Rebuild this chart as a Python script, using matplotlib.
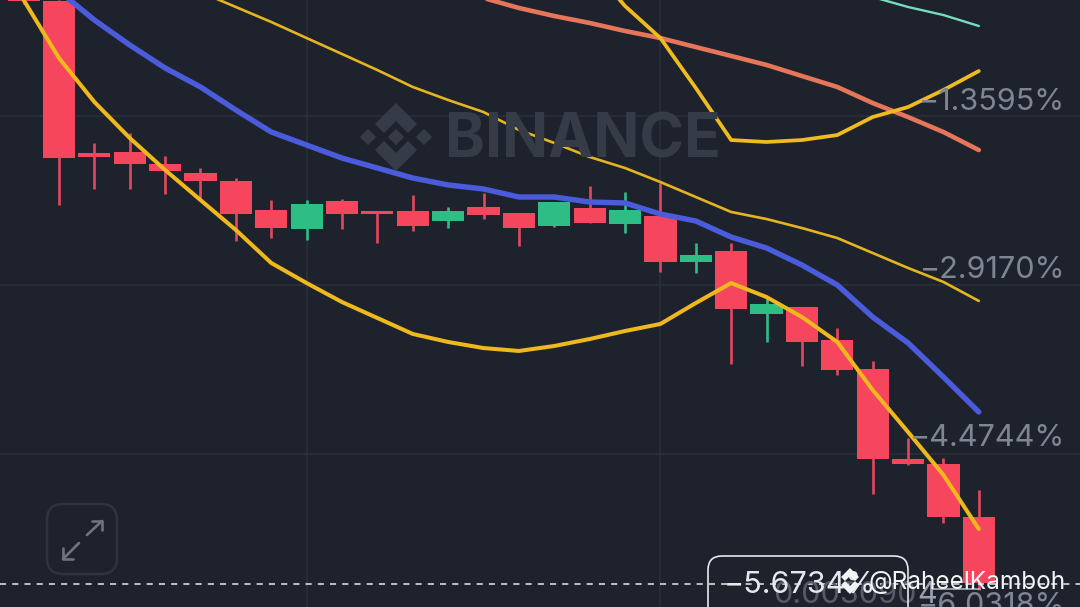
import numpy as np
import matplotlib
matplotlib.use('Agg')
import matplotlib.pyplot as plt
from matplotlib.patches import FancyBboxPatch, Polygon

# candles, all in percent
opens = [-0.263, -0.300, -1.700, -1.691, -1.802, -1.885, -1.959, -2.226, -2.401, -2.143,
         -2.235, -2.235, -2.327, -2.198, -2.253, -2.373, -2.207, -2.355, -2.281, -2.705,
         -2.604, -3.184, -3.120, -3.424, -3.691, -4.521, -4.567, -5.055]
closes = [-0.304, -1.747, -1.737, -1.802, -1.866, -1.959, -2.263, -2.392, -2.170, -2.263,
          -2.263, -2.373, -2.235, -2.272, -2.392, -2.152, -2.346, -2.226, -2.705, -2.640,
          -3.138, -3.092, -3.442, -3.700, -4.521, -4.567, -5.055, -5.663]
highs = [-0.250, -0.290, -1.608, -1.516, -1.728, -1.839, -1.931, -2.134, -2.134, -2.124,
         -2.235, -2.088, -2.198, -2.069, -2.253, -2.152, -2.005, -2.060, -1.977, -2.530,
         -2.530, -3.037, -3.120, -3.313, -3.617, -4.327, -4.511, -4.806]
lows = [-0.327, -2.180, -2.032, -2.032, -2.078, -2.115, -2.511, -2.484, -2.502, -2.401,
        -2.530, -2.419, -2.392, -2.309, -2.558, -2.382, -2.346, -2.438, -2.797, -2.806,
        -3.645, -3.442, -3.663, -3.746, -4.843, -4.576, -5.110, -5.728]

# moving averages and bands, each ends on the last candle
blue_ma = [-0.207, -0.475, -0.705, -0.917, -1.092, -1.304, -1.507, -1.627, -1.747, -1.839,
           -1.931, -1.995, -2.032, -2.106, -2.106, -2.152, -2.161, -2.263, -2.327, -2.475,
           -2.576, -2.733, -2.917, -3.212, -3.451, -3.765, -4.087]
upper_band = [-0.217, -0.355, -0.493, -0.641, -0.788, -0.936, -1.092, -1.212, -1.323, -1.488,
              -1.608, -1.737, -1.839, -1.968, -2.106, -2.244, -2.309, -2.392, -2.484, -2.622,
              -2.760, -2.889, -3.064]
lower_band = [-0.290, -0.825, -1.230, -1.562, -1.857, -2.134, -2.410, -2.714, -2.899, -3.074,
              -3.221, -3.368, -3.442, -3.498, -3.525, -3.479, -3.415, -3.341, -3.276, -3.083,
              -2.899, -3.028, -3.212, -3.442, -3.885, -4.272, -4.668, -5.166]
fast_ma = [0.032, -0.346, -0.641, -1.101, -1.581, -1.599, -1.581, -1.535, -1.369, -1.277,
           -1.120, -0.945]
salmon_ma = [-0.272, -0.364, -0.438, -0.502, -0.576, -0.641, -0.724, -0.806, -0.889, -0.991,
             -1.092, -1.240, -1.369, -1.507, -1.673]
teal_ma = [-0.263, -0.355, -0.429, -0.530]

tick_values = [-1.3595, -2.9170, -4.4744, -6.0318]
tick_labels = ['\u22121.3595%', '\u22122.9170%', '\u22124.4744%', '\u22126.0318%']
grid_x = [8, 18]
last_price = -5.6734

BG = '#1e222d'
RED = '#f6465d'
WICK_RED = '#e2485f'
GREEN = '#2ebd85'
FONT = 'Inter'

fig = plt.figure(figsize=(10.8, 6.07), dpi=100, facecolor=BG)
ax = fig.add_axes([0, 0, 1, 1], facecolor=BG)
ax.set_xlim(-0.667, 29.86)
ax.set_ylim(-5.8845, -0.2904)
ax.axis('off')

for v in tick_values:
    ax.axhline(v, color='#2b303a', lw=1.1, zorder=1)
for k in grid_x:
    ax.axvline(k, color='#2b303a', lw=1.1, zorder=1)

for k in range(len(opens)):
    up = closes[k] > opens[k]
    ax.plot([k, k], [lows[k], highs[k]], color=GREEN if up else WICK_RED, lw=1.9,
            solid_capstyle='butt', zorder=2)
    bottom = min(opens[k], closes[k])
    ax.bar(k, abs(closes[k] - opens[k]), bottom=bottom, width=0.91, color=GREEN if up else RED, zorder=3)

last = len(opens) - 1


def draw_line(values, color, lw):
    xs = np.arange(last - len(values) + 1, last + 1)
    ax.plot(xs, values, color=color, lw=lw, solid_capstyle='round', solid_joinstyle='round', zorder=4)


draw_line(teal_ma, '#76dcc0', 1.7)
draw_line(salmon_ma, '#e5765a', 3.3)
draw_line(upper_band, '#e5b422', 1.9)
draw_line(blue_ma, '#4a5bdc', 3.9)
draw_line(fast_ma, '#efbb1f', 2.7)
draw_line(lower_band, '#efb81c', 2.9)

ax.axhline(last_price, color='#e8eaee', lw=1.1, dashes=(4, 4), dash_capstyle='butt', zorder=5)

# overlay in screen pixels for the watermark, the labels and the icon
over = fig.add_axes([0, 0, 1, 1], facecolor='none')
over.set_xlim(0, 1080)
over.set_ylim(607, 0)
over.axis('off')

wm = '#363c47'
for pts in [[(396, 103), (417, 124), (408, 133), (396, 121), (384, 133), (375, 124)],
            [(396, 171), (417, 150), (408, 141), (396, 153), (384, 141), (375, 150)],
            [(396, 129), (404, 137), (396, 145), (388, 137)],
            [(368, 129), (376, 137), (368, 145), (360, 137)],
            [(424, 129), (432, 137), (424, 145), (416, 137)]]:
    over.add_patch(Polygon(pts, closed=True, fc=wm, ec='none', zorder=1))
over.text(445, 142, 'BINANCE', color=wm, fontsize=43.5, fontweight='bold', family=FONT,
          va='center', ha='left', zorder=1)

for i, lab in enumerate(tick_labels):
    over.text(1065, 102 + 168 * i, lab, color='#7f8693', fontsize=22, family=FONT,
              ha='right', va='center', zorder=6)

# ghost label under the price box
over.text(773, 595, '0.003090', color='#555b67', fontsize=22, family=FONT, ha='left', va='center', zorder=6)
over.text(917, 595, '4', color='#9aa0ab', fontsize=22, family=FONT, ha='left', va='center', zorder=6)
over.plot([933, 980], [589, 589], color='#b8bcc4', lw=1.1, zorder=6)

over.add_patch(FancyBboxPatch((708, 556), 200, 70, boxstyle='round,pad=0,rounding_size=14',
                              fc='none', ec='#e6e8ec', lw=1.2, zorder=7))
over.text(724, 585, '\u22125.6734%', color='#e6e8ec', fontsize=22, family=FONT, ha='left', va='center', zorder=8)
over.text(868, 582, '@RaheelKamboh', color='#f2f3f5', fontsize=17.6, family=FONT, ha='left', va='center', zorder=9)
for pts in [[(850, 568), (859, 577), (855, 581), (850, 576), (845, 581), (841, 577)],
            [(850, 594), (859, 585), (855, 581), (850, 586), (845, 581), (841, 585)]]:
    over.add_patch(Polygon(pts, closed=True, fc='#f2f3f5', ec='none', zorder=9))

# expand icon
over.add_patch(FancyBboxPatch((47, 504), 70, 70, boxstyle='round,pad=0,rounding_size=16',
                              fc='none', ec='#2e343f', lw=1.8, zorder=6))
for xs, ys in [([87, 102], [535, 521]), ([92, 102, 102], [521, 521, 530]),
               ([79, 63], [543, 559]), ([63, 63, 73], [548, 559, 559])]:
    over.plot(xs, ys, color='#6d7480', lw=1.9, solid_capstyle='round', zorder=6)

fig.savefig('out.png', dpi=100, facecolor=BG)
